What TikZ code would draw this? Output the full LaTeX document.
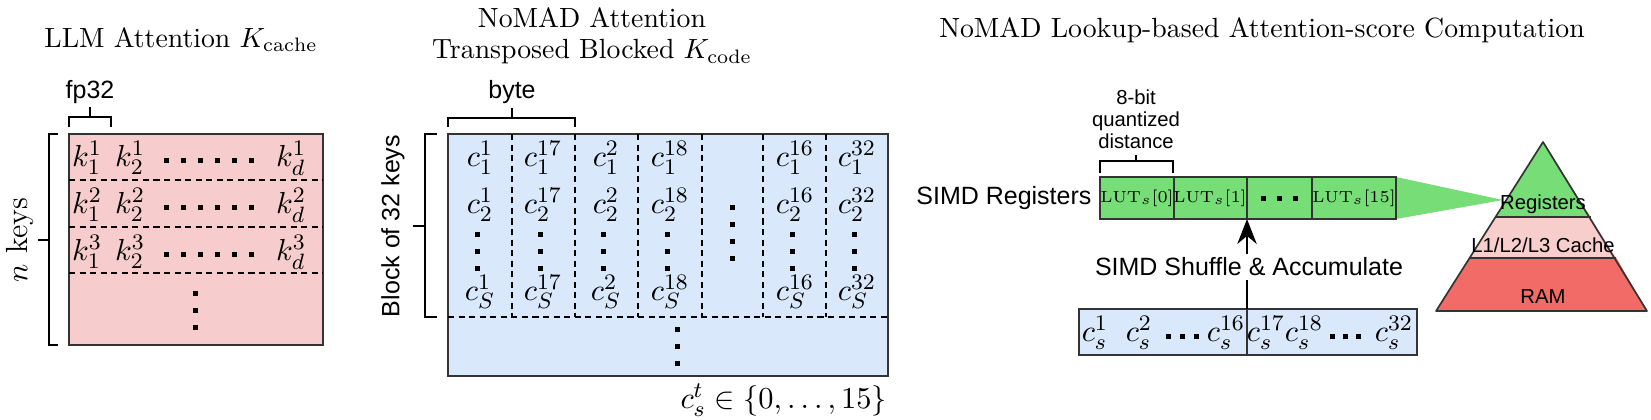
\documentclass[tikz,border=0pt]{standalone}
\usepackage{fontspec}
\setsansfont{Liberation Sans}
\usetikzlibrary{arrows.meta}
\definecolor{pinkbg}{HTML}{F6CCCC}
\definecolor{bluebg}{HTML}{DAE8FC}
\definecolor{greenbg}{HTML}{77DD77}
\definecolor{cachebg}{HTML}{F8CECC}
\definecolor{rambg}{HTML}{F26B66}
\begin{document}
\begin{tikzpicture}[x=0.36pt,y=-0.36pt,
  title/.style={font=\fontsize{10}{12}\selectfont, inner sep=0pt},
  sanslab/.style={font=\sffamily\fontsize{9}{11}\selectfont, inner sep=0pt},
  smalllab/.style={font=\sffamily\fontsize{7.3}{8}\selectfont, inner sep=0pt, align=center},
  ent/.style={font=\fontsize{11}{13}\selectfont, inner sep=0pt},
  lut/.style={font=\fontsize{5.8}{7}\selectfont, inner sep=0pt},
  box/.style={draw=black!80, line width=0.6pt},
  dline/.style={dashed, line width=0.6pt, dash pattern=on 2.2pt off 1.6pt},
  brk/.style={line width=0.6pt}]
\useasboundingbox (0,0) rectangle (1651,419);
\newcommand{\sq}[2]{\fill (#1-2.5,#2-2.5) rectangle ++(5,5);}
% ---------- titles
\node[title] (t1) at (181,40) {LLM Attention $K_{\mathrm{cache}}$};
\node[title] (t2a) at (592,18) {NoMAD Attention};
\node[title] (t2b) at (592,52) {Transposed Blocked $K_{\mathrm{code}}$};
\node[title] (t3) at (1262,30) {NoMAD Lookup-based Attention-score Computation};
% ---------- left panel
\draw[box, fill=pinkbg] (69,134) rectangle (323,345);
\foreach \y in {180,227,273} \draw[dline] (69,\y) -- (323,\y);
\foreach \r/\y in {1/158,2/205,3/252}{
  \node[ent] (ka\r) at (87,\y) {$k_1^{\r}$};
  \node[ent] (kb\r) at (130,\y) {$k_2^{\r}$};
  \node[ent] (kd\r) at (291,\y) {$k_d^{\r}$};
  \foreach \x in {166,183,200,217,234,251} {\sq{\x}{\y+2}}
}
\foreach \y in {293,310,327} {\sq{195}{\y}}
\draw[brk] (69,127) -- (69,117) -- (111,117) -- (111,127);
\draw[brk] (90,117) -- (90,107);
\node[sanslab] (fp) at (90,92) {fp32};
\draw[brk] (58,134) -- (49,134) -- (49,345) -- (58,345);
\draw[brk] (49,240) -- (38,240);
\node[title, rotate=90, font=\fontsize{11}{13}\selectfont] (nk) at (20,240) {$n$ keys};
% ---------- middle panel
\draw[box, fill=bluebg] (448,134) rectangle (888,376);
\draw[dline] (448,317) -- (888,317);
\foreach \x in {512,575,638,702,763,826} \draw[dline] (\x,134) -- (\x,317);
\foreach \i/\x/\t in {1/480/1,2/543/17,3/606/2,4/670/18,6/795/16,7/857/32}{
  \node[ent] (ca\i) at (\x,158) {$c_1^{\t}$};
  \node[ent] (cb\i) at (\x,205) {$c_2^{\t}$};
  \node[ent] (cs\i) at (\x,292) {$c_S^{\t}$};
  \foreach \y in {234,251,268} {\sq{\x-3}{\y}}
}
\foreach \y in {207,224,241,258} {\sq{732}{\y}}
\foreach \y in {329,346,363} {\sq{677}{\y}}
\node[ent, anchor=west] (ct) at (680,400) {$c_s^t \in \{0,\ldots,15\}$};
\draw[brk] (448,127) -- (448,118) -- (575,118) -- (575,127);
\draw[brk] (512,118) -- (512,108);
\node[sanslab] (by) at (512,92) {byte};
\draw[brk] (437,134) -- (425,134) -- (425,317) -- (437,317);
\draw[brk] (425,226) -- (413,226);
\node[sanslab, rotate=90] (bk) at (393,226) {Block of 32 keys};
% ---------- right panel
\fill[greenbg] (1396,177) -- (1503,200) -- (1396,219) -- cycle;
\draw[box, fill=greenbg] (1100,177) rectangle (1396,219);
\foreach \x in {1174,1247,1312} \draw[box] (\x,177) -- (\x,219);
\node[lut] (r0) at (1137,198) {$\mathrm{LUT}_s[0]$};
\node[lut] (r1) at (1210,198) {$\mathrm{LUT}_s[1]$};
\node[lut] (r3) at (1354,198) {$\mathrm{LUT}_s[15]$};
\foreach \x in {1263,1279,1295} {\sq{\x}{198}}
\coordinate (rj) at (1247,219);
\node[sanslab, anchor=east] (simd) at (1092,198) {SIMD Registers};
\draw[brk] (1100,173) -- (1100,161) -- (1173,161) -- (1173,173);
\draw[brk] (1136,161) -- (1136,155);
\node[smalllab] (qd) at (1136,119) {8-bit\\quantized\\distance};
\node[sanslab] (shuf) at (1249,267) {SIMD Shuffle \& Accumulate};
\draw[box, fill=bluebg] (1079,309) rectangle (1417,355);
\draw[box] (1247,309) -- (1247,355);
\coordinate (lj) at (1247,309);
\draw[brk] (lj) -- (1247,280);
\draw[brk, -{Stealth[length=9pt,width=7pt]}] (1247,254) -- (rj);
\node[ent] (l1) at (1095,333) {$c_s^{1}$};
\node[ent] (l2) at (1139,333) {$c_s^{2}$};
\node[ent] (l16) at (1226,333) {$c_s^{16}$};
\node[ent] (l17) at (1266,333) {$c_s^{17}$};
\node[ent] (l18) at (1304,333) {$c_s^{18}$};
\node[ent] (l32) at (1394,333) {$c_s^{32}$};
\foreach \x in {1168,1182,1196,1332,1345,1358} {\sq{\x}{336}}
% pyramid
\fill[greenbg] (1543,142) -- (1590.5,217) -- (1495.5,217) -- cycle;
\fill[cachebg] (1495.5,217) -- (1590.5,217) -- (1616.4,258) -- (1469.6,258) -- cycle;
\fill[rambg] (1469.6,258) -- (1616.4,258) -- (1647,311) -- (1436,311) -- cycle;
\draw[box, line join=round] (1543,142) -- (1647,311) -- (1436,311) -- cycle;
\draw[box] (1495.5,217) -- (1590.5,217);
\draw[box] (1469.6,258) -- (1616.4,258);
\node[smalllab] (preg) at (1543,204) {Registers};
\node[smalllab] (pc) at (1543,245) {L1/L2/L3 Cache};
\node[smalllab] (pr) at (1543,297) {RAM};
\end{tikzpicture}
\end{document}
